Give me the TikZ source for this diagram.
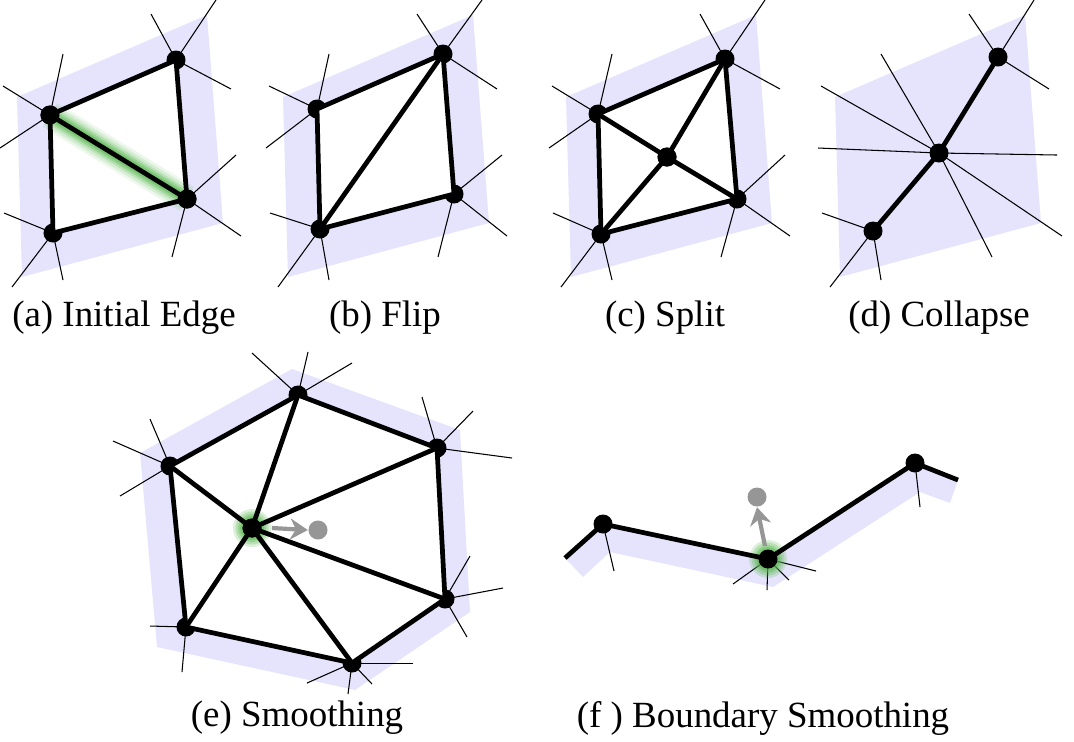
\documentclass[tikz,border=0pt]{standalone}
\usepackage{fontspec}
\setmainfont{Liberation Serif}
\usetikzlibrary{arrows.meta}
\begin{document}
\begin{tikzpicture}[x=0.01cm,y=-0.01cm]
\definecolor{lav}{RGB}{230,228,252}
\definecolor{glow}{RGB}{80,180,70}
\definecolor{gr}{RGB}{150,150,150}
\tikzset{
 bg/.style={fill=lav,draw=none},
 sp/.style={line width=0.3pt},
 ed/.style={line width=1.35pt},
 vx/.style={circle,fill=black,inner sep=0pt,minimum size=0.19cm},
 gd/.style={circle,fill=gr,inner sep=0pt,minimum size=0.19cm},
 garr/.style={gr,line width=1.2pt,-{Stealth[length=5pt,width=6pt]}},
 lab/.style={font=\fontsize{10.5}{12}\selectfont,inner sep=0pt}
}
\useasboundingbox (0,0) rectangle (1074,741);
% ---------- (a)
\begin{scope}
\fill[bg] (17,97)--(207,15)--(223,223)--(22,277)--cycle;
\node[vx] (a1) at (50,115) {}; \node[vx] (a2) at (176,60) {};
\node[vx] (a3) at (187,199) {}; \node[vx] (a4) at (53,233) {};
\fill[white] (a1.center)--(a2.center)--(a3.center)--(a4.center)--cycle;
\foreach \p in {(3,86),(63,54),(0,148)} \draw[sp] (a1.center)--\p;
\foreach \p in {(151,14),(216,0),(231,89)} \draw[sp] (a2.center)--\p;
\foreach \p in {(236,155),(241,236),(172,257)} \draw[sp] (a3.center)--\p;
\foreach \p in {(4,213),(12,287),(63,280)} \draw[sp] (a4.center)--\p;
\foreach \w/\o in {8/0.1,6.5/0.15,5/0.2,3.8/0.3,2.6/0.4} \draw[glow,line width=\w pt,opacity=\o] (a1.center)--(a3.center);
\draw[ed] (a1.center)--(a2.center)--(a3.center)--(a4.center)--cycle (a1.center)--(a3.center);
\node[vx] at (a1) {}; \node[vx] at (a3) {};
\end{scope}
% ---------- (b)
\begin{scope}[shift={(266,0)}]
\fill[bg] (17,97)--(207,15)--(223,223)--(22,277)--cycle;
\node[vx] (b1) at (51,109) {}; \node[vx] (b2) at (177,54) {};
\node[vx] (b3) at (188,194) {}; \node[vx] (b4) at (54,229) {};
\fill[white] (b1.center)--(b2.center)--(b3.center)--(b4.center)--cycle;
\foreach \p in {(3,86),(63,54),(0,148)} \draw[sp] (b1.center)--\p;
\foreach \p in {(151,14),(216,0),(231,89)} \draw[sp] (b2.center)--\p;
\foreach \p in {(236,155),(241,236),(172,257)} \draw[sp] (b3.center)--\p;
\foreach \p in {(4,213),(12,287),(63,280)} \draw[sp] (b4.center)--\p;
\draw[ed] (b1.center)--(b2.center)--(b3.center)--(b4.center)--cycle (b4.center)--(b2.center);
\end{scope}
% ---------- (c)
\begin{scope}[shift={(549,0)}]
\fill[bg] (17,97)--(207,15)--(223,223)--(22,277)--cycle;
\node[vx] (c1) at (49,114) {}; \node[vx] (c2) at (176,59) {};
\node[vx] (c3) at (188,199) {}; \node[vx] (c4) at (52,234) {};
\fill[white] (c1.center)--(c2.center)--(c3.center)--(c4.center)--cycle;
\node[vx] (c5) at (118,157) {};
\foreach \p in {(3,86),(63,54),(0,148)} \draw[sp] (c1.center)--\p;
\foreach \p in {(151,14),(216,0),(231,89)} \draw[sp] (c2.center)--\p;
\foreach \p in {(236,155),(241,236),(172,257)} \draw[sp] (c3.center)--\p;
\foreach \p in {(4,213),(12,287),(63,280)} \draw[sp] (c4.center)--\p;
\draw[ed] (c1.center)--(c2.center)--(c3.center)--(c4.center)--cycle;
\foreach \v in {c1,c2,c3,c4} \draw[ed] (c5.center)--(\v.center);
\node[vx] at (c5) {};
\end{scope}
% ---------- (d)
\begin{scope}[shift={(818,0)}]
\fill[bg] (17,97)--(207,15)--(223,223)--(22,277)--cycle;
\node[vx] (d1) at (180,57) {}; \node[vx] (d2) at (121,153) {};
\node[vx] (d3) at (55,231) {};
\foreach \p in {(3,86),(63,54),(0,148),(239,155),(244,236),(174,257)} \draw[sp] (d2.center)--\p;
\foreach \p in {(151,14),(216,0),(231,89)} \draw[sp] (d1.center)--\p;
\foreach \p in {(4,213),(12,287),(63,280)} \draw[sp] (d3.center)--\p;
\draw[ed] (d3.center)--(d2.center)--(d1.center);
\end{scope}
% ---------- (e)
\fill[bg] (140,453)--(292,369)--(460,430)--(470,612)--(355,690)--(157,647)--cycle;
\node[vx] (e1) at (298,395) {}; \node[vx] (e2) at (437,448) {};
\node[vx] (e3) at (445,599) {}; \node[vx] (e4) at (352,663) {};
\node[vx] (e5) at (186,627) {}; \node[vx] (e6) at (170,466) {};
\fill[white] (e1.center)--(e2.center)--(e3.center)--(e4.center)--(e5.center)--(e6.center)--cycle;
\foreach \p in {(252,353),(308,352),(352,363)} \draw[sp] (e1.center)--\p;
\foreach \p in {(422,397),(473,411),(512,458)} \draw[sp] (e2.center)--\p;
\foreach \p in {(470,556),(503,588),(467,637)} \draw[sp] (e3.center)--\p;
\foreach \p in {(413,663),(372,684),(348,694),(307,683)} \draw[sp] (e4.center)--\p;
\foreach \p in {(150,626),(182,672)} \draw[sp] (e5.center)--\p;
\foreach \p in {(113,441),(150,419),(120,496)} \draw[sp] (e6.center)--\p;
\coordinate (e0c) at (252,528);
\foreach \r/\o in {19/0.2,16.5/0.25,14/0.3,12/0.4} \fill[glow,opacity=\o] (e0c) circle (\r);
\node[vx] (e0) at (e0c) {};
\draw[ed] (e1.center)--(e2.center)--(e3.center)--(e4.center)--(e5.center)--(e6.center)--cycle;
\foreach \v in {e1,e2,e3,e4,e5,e6} \draw[ed] (e0.center)--(\v.center);
\node[vx] at (e0c) {};
\node[gd] (eg) at (318,530) {};
\draw[garr] (272,528) -- (eg.west);
% ---------- (f)
\fill[bg] (565,558)--(603,524)--(768,559)--(915,463)--(958,480)--(950,503)--(920,492)--(773,587)--(610,552)--(583,577)--cycle;
\node[vx] (f1) at (603,524) {};
\node[vx] (f3) at (915,463) {};
\coordinate (f2c) at (768,559);
\coordinate (fl) at (565,558); \coordinate (fr) at (958,480);
\draw[sp] (f1.center)--(614,571);
\foreach \p in {(733,584),(767,590),(789,580),(816,571)} \draw[sp] (f2c)--\p;
\draw[sp] (f3.center)--(920,507);
\foreach \r/\o in {19/0.2,16.5/0.25,14/0.3,12/0.4} \fill[glow,opacity=\o] (f2c) circle (\r);
\node[vx] (f2) at (f2c) {};
\draw[ed] (fl)--(f1.center)--(f2.center)--(f3.center)--(fr);
\node[gd] (fg) at (757,497) {};
\draw[garr] (765,546) -- (fg.south);
% ---------- labels
\node[lab] at (124,318) {(a) Initial Edge};
\node[lab] at (385,318) {(b) Flip};
\node[lab] at (665,318) {(c) Split};
\node[lab] at (939,318) {(d) Collapse};
\node[lab] at (297,718) {(e) Smoothing};
\node[lab] at (763,718) {(f ) Boundary Smoothing};
\end{tikzpicture}
\end{document}
